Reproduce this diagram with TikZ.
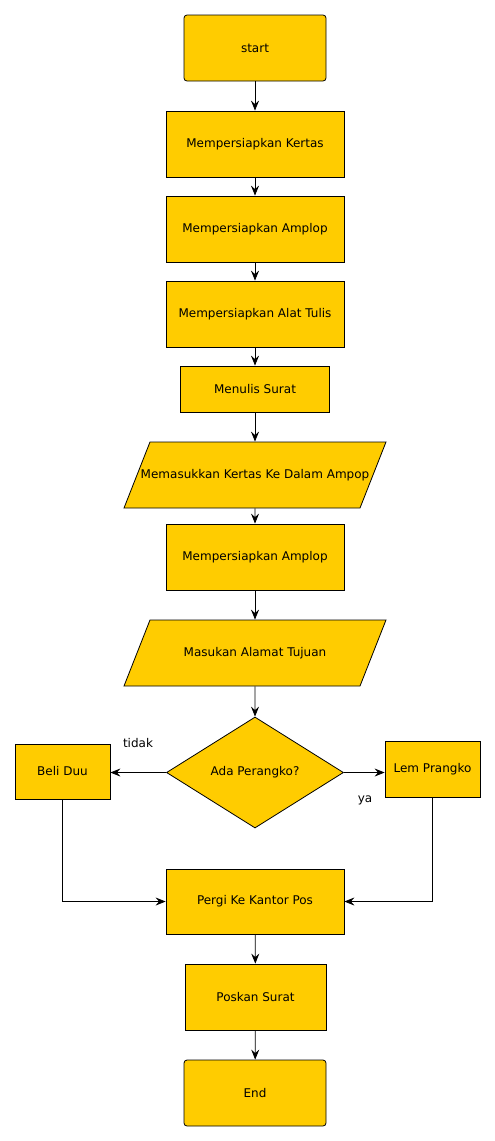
\documentclass[tikz,border=0pt]{standalone}
\usepackage{fontspec}
\setmainfont{DejaVu Sans}
\usetikzlibrary{shapes.geometric,arrows.meta}
\definecolor{kuning}{RGB}{255,204,0}
\newcommand{\isimasuk}[1]{\parbox[c][66pt][c]{210pt}{\centering\makebox[0pt]{#1}}}
\begin{document}
\begin{tikzpicture}[x=1pt, y=-1pt,
	font=\fontsize{12}{14}\selectfont,
	every node/.style={inner sep=0pt},
	kotak/.style={draw, fill=kuning, line width=0.8pt, rectangle, minimum width=178pt, minimum height=66pt},
	ujung/.style={kotak, rounded corners=3pt, minimum width=142pt},
	masuk/.style={draw, fill=kuning, line width=0.8pt, trapezium, trapezium left angle=68.5, trapezium right angle=111.5},
	pilih/.style={draw, fill=kuning, line width=0.8pt, diamond, minimum width=177pt, minimum height=111pt},
	panah/.style={-{Stealth[length=10pt, width=8pt, inset=3.5pt]}, line width=0.8pt}]
	\useasboundingbox (0,0) rectangle (495,1141);

	\draw (255,  48) node[ujung] (start) {start};
	\draw (255, 144) node[kotak] (kertas) {Mempersiapkan Kertas};
	\draw (255, 229) node[kotak] (amplop1) {Mempersiapkan Amplop};
	\draw (255, 314) node[kotak] (alat) {Mempersiapkan Alat Tulis};
	\draw (255, 389) node[kotak, minimum width=149pt, minimum height=46pt] (tulis) {Menulis Surat};
	\draw (255, 475) node[masuk] (masukkan) {\isimasuk{Memasukkan Kertas Ke Dalam Ampop}};
	\draw (255, 557) node[kotak] (amplop2) {Mempersiapkan Amplop};
	\draw (255, 653) node[masuk] (alamat) {\isimasuk{Masukan Alamat Tujuan}};
	\draw (255, 772.5) node[pilih] (cek) {Ada Perangko?};

	\draw (62.5, 771.5) node[kotak, minimum width=95pt, minimum height=55pt] (beli) {Beli Duu};
	\draw (432.5, 769) node[kotak, minimum width=95pt, minimum height=56pt] (lem) {Lem Prangko};
	\draw (138, 743) node (tidak) {tidak};
	\draw (365, 800) node (ya) {ya};

	\draw (255, 901.5) node[kotak, minimum height=65pt] (pergi) {Pergi Ke Kantor Pos};
	\draw (255.5, 997) node[kotak, minimum width=141pt] (poskan) {Poskan Surat};
	\draw (255, 1093) node[ujung] (end) {End};

	\draw[panah] (start) -- (kertas);
	\draw[panah] (kertas) -- (amplop1);
	\draw[panah] (amplop1) -- (alat);
	\draw[panah] (alat) -- (tulis);
	\draw[panah] (tulis) -- (masukkan);
	\draw[panah] (masukkan) -- (amplop2);
	\draw[panah] (amplop2) -- (alamat);
	\draw[panah] (alamat) -- (cek);
	\draw[panah] (cek.west) -- (cek.west -| beli.east);
	\draw[panah] (cek.east) -- (cek.east -| lem.west);
	\draw[panah] (beli.south) |- (pergi.west);
	\draw[panah] (lem.south) |- (pergi.east);
	\draw[panah] (pergi) -- (poskan);
	\draw[panah] (poskan) -- (end);
\end{tikzpicture}
\end{document}
